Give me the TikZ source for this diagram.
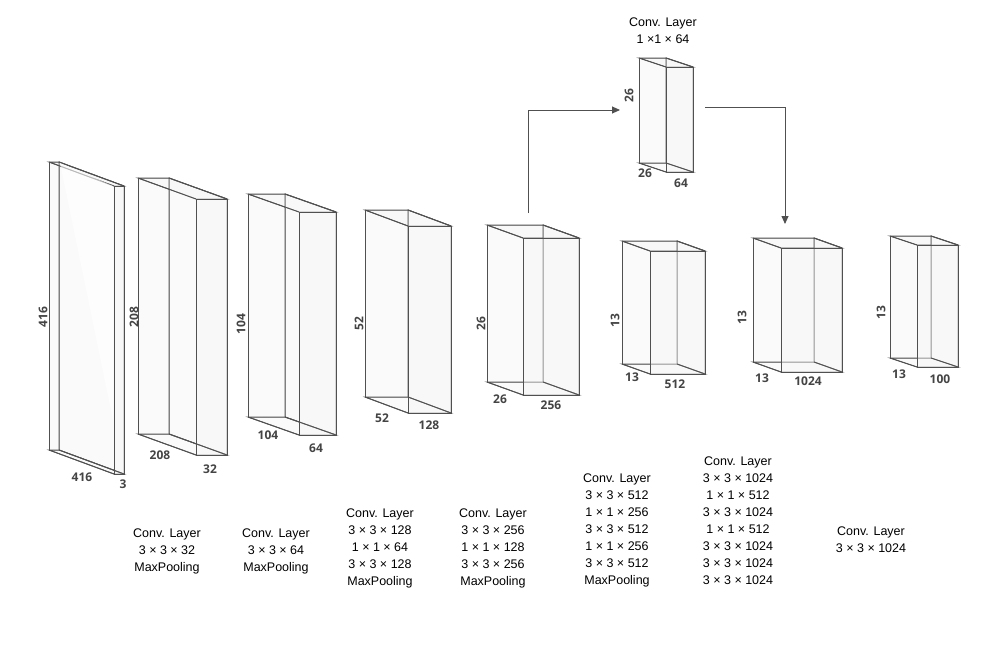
\documentclass[tikz,border=0pt]{standalone}
\usepackage{fontspec}
\setmainfont{Liberation Sans}
\newfontfamily\numfont{Open Sans}
\usetikzlibrary{arrows.meta}
\definecolor{edge}{HTML}{505050}
\definecolor{lab}{HTML}{444444}
\definecolor{face}{HTML}{F6F6F6}
\tikzset{
  face/.style={draw=edge,line width=0.9pt,fill=face,fill opacity=0.45},
  dim/.style={font=\numfont\bfseries\fontsize{12}{14}\selectfont,text=lab,inner sep=0pt},
  captxt/.style={font=\fontsize{12.5}{17}\selectfont,align=center,inner sep=0pt},
  conn/.style={draw=edge,line width=0.9pt,-{Triangle[length=8pt,width=7pt]}}
}
% x,y back top-left; w width; h height; dx,dy offset of front face
\newcommand\mycube[7]{%
  \begin{scope}[shift={(#2,#3)}]
  \path[face] (0,0) rectangle (#4,#5);
  \path[face] (0,0) -- (#6,#7) -- (#6+#4,#7) -- (#4,0) -- cycle;
  \path[face] (#4,0) -- (#6+#4,#7) -- (#6+#4,#7+#5) -- (#4,#5) -- cycle;
  \path[face] (0,#5) -- (#6,#7+#5) -- (#6+#4,#7+#5) -- (#4,#5) -- cycle;
  \draw[face] (#6,#7) rectangle (#6+#4,#7+#5);
  \draw[edge,line width=0.9pt] (0,0) -- (#6,#7) (0,#5) -- (#6,#7+#5) (#4,0)--(#6+#4,#7) (#4,#5)--(#6+#4,#7+#5);
  \coordinate (#1) at (0,0);
  \end{scope}}
\begin{document}
\begin{tikzpicture}[x=1pt,y=-1pt]
\useasboundingbox[fill=white] (0,0) rectangle (1006,655);
\mycube{c1}{49}{162}{10}{288}{65}{24}
\fill[white,opacity=0.6] (60,163) -- (113,186) -- (113,420) -- cycle;
\mycube{c2}{138}{178}{31}{256}{58}{21}
\mycube{c3}{248}{194}{37}{223}{51}{18}
\mycube{c4}{365}{210}{43}{187}{43}{16}
\mycube{c5}{487}{225}{56}{157}{36}{13}
\mycube{c6}{622}{241}{55}{123}{28}{10}
\mycube{ct}{639}{58}{27}{105}{27}{9}
\mycube{c7}{753}{238}{61}{124}{28}{10}
\mycube{c8}{890}{236}{41}{122}{27}{9}
% dimension labels
\node[dim,rotate=90] (l1a) at (43,317) {416};
\node[dim] (l1b) at (82,477) {416};
\node[dim] (l1c) at (123,484) {3};
\node[dim,rotate=90] (l2a) at (134,317) {208};
\node[dim] (l2b) at (160,455) {208};
\node[dim] (l2c) at (210,469) {32};
\node[dim,rotate=90] (l3a) at (241,324) {104};
\node[dim] (l3b) at (268,435) {104};
\node[dim] (l3c) at (316,448) {64};
\node[dim,rotate=90] (l4a) at (359,324) {52};
\node[dim] (l4b) at (382,418) {52};
\node[dim] (l4c) at (429,425) {128};
\node[dim,rotate=90] (l5a) at (481,324) {26};
\node[dim] (l5b) at (500,399) {26};
\node[dim] (l5c) at (551,405) {256};
\node[dim,rotate=90] (l6a) at (615,321) {13};
\node[dim] (l6b) at (632,377) {13};
\node[dim] (l6c) at (675,384) {512};
\node[dim,rotate=90] (lta) at (629,96) {26};
\node[dim] (ltb) at (645,173) {26};
\node[dim] (ltc) at (681,183) {64};
\node[dim,rotate=90] (l7a) at (742,318) {13};
\node[dim] (l7b) at (762,378) {13};
\node[dim] (l7c) at (808,381) {1024};
\node[dim,rotate=90] (l8a) at (881,313) {13};
\node[dim] (l8b) at (899,374) {13};
\node[dim] (l8c) at (940,379) {100};
% arrows
\coordinate (a0) at (528,213);
\coordinate (a1) at (620,110);
\coordinate (b0) at (705,107);
\coordinate (b1) at (785,224);
\draw[conn] (a0) |- (a1);
\draw[conn] (b0) -| (b1);
% captions
\node[captxt] (tt) at (663,31) {Conv. Layer\\1 ×1 × 64};
\node[captxt] (t1) at (167,551) {Conv. Layer\\3 × 3 × 32\\MaxPooling};
\node[captxt] (t2) at (276,551) {Conv. Layer\\3 × 3 × 64\\MaxPooling};
\node[captxt] (t3) at (380,548) {Conv. Layer\\3 × 3 × 128\\1 × 1 × 64\\3 × 3 × 128\\MaxPooling};
\node[captxt] (t4) at (493,548) {Conv. Layer\\3 × 3 × 256\\1 × 1 × 128\\3 × 3 × 256\\MaxPooling};
\node[captxt] (t5) at (617,530) {Conv. Layer\\3 × 3 × 512\\1 × 1 × 256\\3 × 3 × 512\\1 × 1 × 256\\3 × 3 × 512\\MaxPooling};
\node[captxt] (t6) at (738,521) {Conv. Layer\\3 × 3 × 1024\\1 × 1 × 512\\3 × 3 × 1024\\1 × 1 × 512\\3 × 3 × 1024\\3 × 3 × 1024\\3 × 3 × 1024};
\node[captxt] (t7) at (871,540) {Conv. Layer\\3 × 3 × 1024};
\end{tikzpicture}
\end{document}
